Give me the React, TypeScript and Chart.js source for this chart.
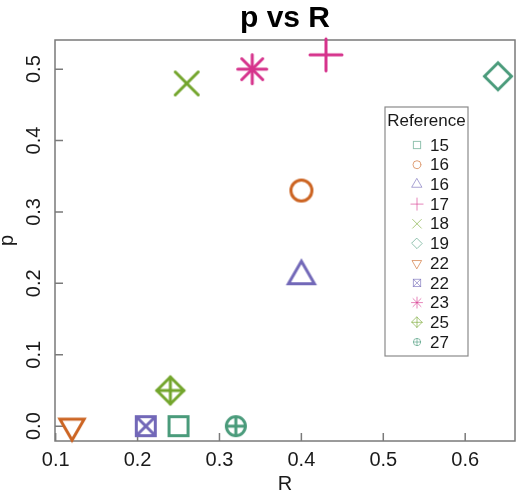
import React, { useEffect, useRef } from 'react';
import { Chart, registerables } from 'chart.js';
Chart.register(...registerables);

// ---- data ----
const refLabels = ['15', '16', '16', '17', '18', '19', '22', '22', '23', '25', '27'];
const rValues = [0.25, 0.40, 0.40, 0.43, 0.26, 0.64, 0.12, 0.21, 0.34, 0.24, 0.32];
const pValues = [0.00, 0.33, 0.21, 0.52, 0.48, 0.49, 0.00, 0.00, 0.50, 0.05, 0.00];
const symbolKinds = ['square', 'circle', 'triangle', 'plus', 'cross', 'diamond', 'triangleDown', 'squareX', 'asterisk', 'diamondPlus', 'circlePlus'];
const palette = ['#4a9b7b', '#cc6422', '#7268b8', '#d6338c', '#73a52c'];
const xTicks = [0.1, 0.2, 0.3, 0.4, 0.5, 0.6];
const yTicks = [0.0, 0.1, 0.2, 0.3, 0.4, 0.5];
const xRange = [0.0992, 0.6608];
const yRange = [-0.0208, 0.5408];
const chartTitle = 'p vs R';
const xTitle = 'R';
const yTitle = 'p';
const legendTitle = 'Reference';

const FONT = '"Liberation Sans", Arial, Helvetica, sans-serif';
const AXIS_COLOR = '#7a7a7a';
const TEXT_COLOR = '#1a1a1a';

function drawSymbol(ctx: CanvasRenderingContext2D, kind: string, cx: number, cy: number, k: number, lw: number, color: string) {
  ctx.save();
  ctx.strokeStyle = color;
  ctx.lineWidth = lw;
  ctx.lineCap = 'round';
  ctx.lineJoin = 'miter';
  const line = (x1: number, y1: number, x2: number, y2: number) => {
    ctx.beginPath();
    ctx.moveTo(cx + x1, cy + y1);
    ctx.lineTo(cx + x2, cy + y2);
    ctx.stroke();
  };
  const circle = (r: number) => {
    ctx.beginPath();
    ctx.arc(cx, cy, r, 0, Math.PI * 2);
    ctx.stroke();
  };
  const diamond = (h: number) => {
    ctx.beginPath();
    ctx.moveTo(cx, cy - h);
    ctx.lineTo(cx + h, cy);
    ctx.lineTo(cx, cy + h);
    ctx.lineTo(cx - h, cy);
    ctx.closePath();
    ctx.stroke();
  };
  switch (kind) {
    case 'square': {
      const h = 9.5 * k;
      ctx.strokeRect(cx - h, cy - h, 2 * h, 2 * h);
      break;
    }
    case 'circle':
      circle(10.5 * k);
      break;
    case 'triangle': {
      const r = 15 * k;
      const xc = (r * Math.sqrt(3)) / 2;
      ctx.beginPath();
      ctx.moveTo(cx, cy - r);
      ctx.lineTo(cx + xc, cy + r / 2);
      ctx.lineTo(cx - xc, cy + r / 2);
      ctx.closePath();
      ctx.stroke();
      break;
    }
    case 'triangleDown': {
      const r = 14 * k;
      const xc = (r * Math.sqrt(3)) / 2;
      ctx.beginPath();
      ctx.moveTo(cx, cy + r);
      ctx.lineTo(cx + xc, cy - r / 2);
      ctx.lineTo(cx - xc, cy - r / 2);
      ctx.closePath();
      ctx.stroke();
      break;
    }
    case 'plus': {
      const h = 16 * k;
      line(-h, 0, h, 0);
      line(0, -h, 0, h);
      break;
    }
    case 'cross': {
      const h = 11.5 * k;
      line(-h, -h, h, h);
      line(-h, h, h, -h);
      break;
    }
    case 'diamond':
      diamond(13.5 * k);
      break;
    case 'squareX': {
      const h = 9.5 * k;
      ctx.strokeRect(cx - h, cy - h, 2 * h, 2 * h);
      line(-h, -h, h, h);
      line(-h, h, h, -h);
      break;
    }
    case 'asterisk': {
      const h = 14.5 * k;
      const d = 10.5 * k;
      line(-h, 0, h, 0);
      line(0, -h, 0, h);
      line(-d, -d, d, d);
      line(-d, d, d, -d);
      break;
    }
    case 'diamondPlus': {
      const h = 13.5 * k;
      diamond(h);
      line(-h, 0, h, 0);
      line(0, -h, 0, h);
      break;
    }
    case 'circlePlus': {
      const r = 9.5 * k;
      circle(r);
      line(-r, 0, r, 0);
      line(0, -r, 0, r);
      break;
    }
  }
  ctx.restore();
}

function makeSymbolCanvas(kind: string, k: number, lw: number, color: string) {
  const size = Math.ceil(40 * k + lw * 2 + 4);
  const c = document.createElement('canvas');
  c.width = size;
  c.height = size;
  const ctx = c.getContext('2d')!;
  drawSymbol(ctx, kind, size / 2, size / 2, k, lw, color);
  return c;
}

const framePlugin = {
  id: 'rframe',
  beforeDatasetsDraw(chart: any) {
    const { ctx, chartArea } = chart;
    const xs = chart.scales.x;
    const ys = chart.scales.y;
    ctx.save();
    ctx.strokeStyle = AXIS_COLOR;
    ctx.lineWidth = 1.5;
    ctx.strokeRect(chartArea.left, chartArea.top, chartArea.right - chartArea.left, chartArea.bottom - chartArea.top);
    const tl = 8;
    ctx.beginPath();
    xs.ticks.forEach((t: any) => {
      const px = xs.getPixelForValue(t.value);
      ctx.moveTo(px, chartArea.bottom);
      ctx.lineTo(px, chartArea.bottom - tl);
    });
    ys.ticks.forEach((t: any) => {
      const py = ys.getPixelForValue(t.value);
      ctx.moveTo(chartArea.left, py);
      ctx.lineTo(chartArea.left + tl, py);
    });
    ctx.stroke();

    ctx.fillStyle = TEXT_COLOR;
    ctx.font = `20px ${FONT}`;
    ctx.textAlign = 'center';
    ctx.textBaseline = 'alphabetic';
    xs.ticks.forEach((t: any) => {
      const px = xs.getPixelForValue(t.value);
      ctx.fillText(Number(t.value).toFixed(1), px, chartArea.bottom + 25);
    });
    ys.ticks.forEach((t: any) => {
      const py = ys.getPixelForValue(t.value);
      ctx.save();
      ctx.translate(chartArea.left - 15, py);
      ctx.rotate(-Math.PI / 2);
      ctx.fillText(Number(t.value).toFixed(1), 0, 0);
      ctx.restore();
    });
    // axis titles
    ctx.fillText(xTitle, (chartArea.left + chartArea.right) / 2, chartArea.bottom + 49);
    ctx.save();
    ctx.translate(13, (chartArea.top + chartArea.bottom) / 2);
    ctx.rotate(-Math.PI / 2);
    ctx.fillText(yTitle, 0, 0);
    ctx.restore();
    // main title
    ctx.fillStyle = '#000';
    ctx.font = `bold 30px ${FONT}`;
    ctx.fillText(chartTitle, (chartArea.left + chartArea.right) / 2, 27);
    ctx.restore();
  },
  afterDraw(chart: any) {
    const { ctx } = chart;
    const left = 385;
    const right = 468;
    const top = 107;
    const bottom = 356;
    ctx.save();
    ctx.fillStyle = '#fff';
    ctx.fillRect(left, top, right - left, bottom - top);
    ctx.strokeStyle = '#8a8a8a';
    ctx.lineWidth = 1.2;
    ctx.strokeRect(left, top, right - left, bottom - top);
    ctx.fillStyle = TEXT_COLOR;
    ctx.font = `17px ${FONT}`;
    ctx.textAlign = 'center';
    ctx.textBaseline = 'middle';
    ctx.fillText(legendTitle, (left + right) / 2, 121);
    ctx.textAlign = 'left';
    chart.data.datasets.forEach((ds: any, i: number) => {
      const y = 145 + i * 19.7;
      ctx.save();
      ctx.globalAlpha = 0.6;
      drawSymbol(ctx, symbolKinds[i], 417, y, 0.38, 1, ds.legendColor);
      ctx.restore();
      ctx.fillStyle = TEXT_COLOR;
      ctx.fillText(ds.label, 430, y + 1);
    });
    ctx.restore();
  },
};

export default function App() {
  const ref = useRef<HTMLCanvasElement | null>(null);
  useEffect(() => {
    if (!ref.current) return;
    const datasets = refLabels.map((lab, i) => {
      const color = palette[i % palette.length];
      return {
        label: lab,
        data: [{ x: rValues[i], y: pValues[i] }],
        pointStyle: makeSymbolCanvas(symbolKinds[i], 1, 3, color),
        legendColor: color,
        clip: false,
        showLine: false,
      };
    });
    const chart = new Chart(ref.current, {
      type: 'scatter',
      data: { datasets } as any,
      options: {
        responsive: false,
        animation: false,
        layout: { padding: { top: 40, right: 3, left: 0, bottom: 0 } },
        plugins: { legend: { display: false }, tooltip: { enabled: false }, title: { display: false } },
        scales: {
          x: {
            type: 'linear',
            position: 'bottom',
            min: xRange[0],
            max: xRange[1],
            grid: { display: false },
            border: { display: false },
            ticks: { display: false },
            afterBuildTicks: (s: any) => {
              s.ticks = xTicks.map((v) => ({ value: v }));
            },
            afterFit: (s: any) => {
              s.height = 53;
            },
          },
          y: {
            type: 'linear',
            min: yRange[0],
            max: yRange[1],
            grid: { display: false },
            border: { display: false },
            ticks: { display: false },
            afterBuildTicks: (s: any) => {
              s.ticks = yTicks.map((v) => ({ value: v }));
            },
            afterFit: (s: any) => {
              s.width = 55;
            },
          },
        },
      } as any,
      plugins: [framePlugin],
    });
    return () => chart.destroy();
  }, []);
  return (
    <div style={{ position: 'absolute', left: 0, top: 0, width: 520, height: 494, background: '#fff' }}>
      <canvas ref={ref} width={520} height={494} style={{ display: 'block' }} />
    </div>
  );
}
